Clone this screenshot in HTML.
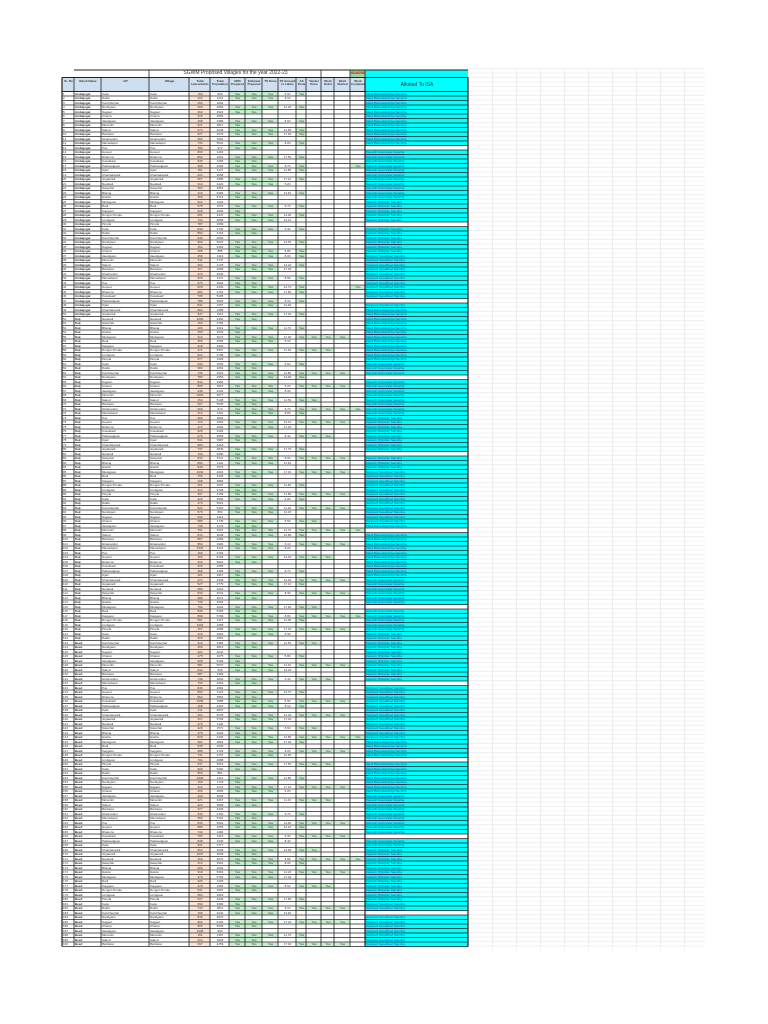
<!DOCTYPE html>
<html><head><meta charset="utf-8">
<style>
html,body{margin:0;padding:0;background:#fff;width:768px;height:1024px;overflow:hidden;font-family:"Liberation Sans",sans-serif;}
#sheet{position:absolute;left:0;top:0;width:768px;height:1024px;}
#bggrid{position:absolute;left:468px;top:68px;width:237px;height:882px;
background-image:repeating-linear-gradient(to right,#eee 0 1px,transparent 1px 24px),repeating-linear-gradient(to bottom,#f0f0f0 0 1px,transparent 1px 4.5px);}
.c{position:absolute;box-sizing:border-box;font-size:3px;line-height:4.5px;overflow:hidden;white-space:nowrap;color:#333;padding-left:1px;}
.hd{font-size:3px;line-height:3.4px;text-align:center;white-space:normal;font-weight:bold;background:#d0dff0;padding-top:2px;}
#lines{position:absolute;left:0;top:0;}
</style></head>
<body>
<div id="sheet">
<div id="bggrid"></div>
<div id="tbl"></div>
<svg id="lines" width="768" height="1024"></svg>
</div>
<script>
const colX=[62,74,101,149,189,210,229,245,262,278,296,306,321,334,350,365,468];
const headers=["Sr. No","Block Name","GP","Village","Total Households","Total Population","DPR Prepared","Estimate Prepared","TS Done","TS Amount in Lakhs","AS Done","Tender Done","Work Order","Work Started","Work Completed","Allotted To ISA"];
const blocks=["Ambajogai","Kaij","Beed"];
const gps=["Kode","Gopeur","Kapgaon","Bardapur","Bhavaj","Chanai","Chandanwadi","Dakla","Dhanora","Dongar Pimpla","Ghatnandur","Hatola","Jawalgaon","Jogaiwadi","Kumbhephal","Kusalwadi","Limbgaon","Mamadapur","Mudegaon","Murambi","Nandadi","Nandgaon","Pattiwadgaon","Pimpla","Pus","Radi","Sakud","Satephal","Sugaon","Ujani"];
const isa=["Mauli Bahuuddeshiya Sanstha","Samarth Gramvikas Sanstha","Kaplesh Shikshan Sanstha","Sanjivani Sevabhavi Sanstha"];
const tbl=document.getElementById('tbl');
const svg=document.getElementById('lines');
const NS='http://www.w3.org/2000/svg';
const top0=91.5,rh=4.5,N=190,bottom=top0+N*rh;
function cell(x1,x2,y,h,txt,bg,cls){
 const d=document.createElement('div');
 d.className='c'+(cls?' '+cls:'');
 d.style.left=x1+'px';d.style.top=y+'px';d.style.width=(x2-x1)+'px';d.style.height=h+'px';
 if(bg)d.style.background=bg;
 d.textContent=txt;
 tbl.appendChild(d);return d;
}
function line(x1,y1,x2,y2,w){
 const l=document.createElementNS(NS,'line');
 l.setAttribute('x1',x1);l.setAttribute('y1',y1);l.setAttribute('x2',x2);l.setAttribute('y2',y2);
 l.setAttribute('stroke','#222');l.setAttribute('stroke-width',w||0.8);
 
 
 svg.appendChild(l);
}
let t=cell(149,321,70,7.5,"SGWM Proposed Villages for the year 2022-23",null);
t.style.fontSize='5px';t.style.lineHeight='7.5px';t.style.textAlign='center';


t=cell(350,365,70,7.5,"6/16/2022","#9bd79b");
t.style.color='#d00';t.style.fontWeight='bold';t.style.fontSize='3.5px';t.style.lineHeight='7.5px';


t=cell(365,468,70,7.5,"","#00ffff");


for(let i=0;i<headers.length;i++){
 const h=cell(colX[i],colX[i+1],77.5,14,headers[i],i==15?'#00ffff':null,'hd');
 if(i==15){h.style.fontSize='5px';h.style.lineHeight='10px';h.style.fontWeight='normal';}
 
 
}
for(let r=0;r<N;r++){
 const y=top0+r*rh;
 const blk=r<50?0:(r<122?1:2);
 const gp=gps[(r*7)%gps.length];
 const s=(r*37+11)%100;
 const dpr=s<75, est=s<70, ts=s<55, as=s<45, ten=(s<30&&blk>0), wo=(s<25&&blk>0), ws=(s<20&&blk>0), wc=(s<4);
 const hh=150+((r*53)%900), pop=800+((r*431)%5000);
 const g='#c6efce';
 const vals=[String(r+1),blocks[blk],gp,gp,String(hh),String(pop),dpr?'Yes':'',est?'Yes':'',ts?'Yes':'',ts?(5+(r*3)%15)+'.'+(r%9)+'0':'',as?'Yes':'',ten?'Yes':'',wo?'Yes':'',ws?'Yes':'',wc?'Yes':'',''];
 const bgs=[null,null,null,null,'#fce4d6',null,dpr?g:null,est?g:null,ts?g:null,null,as?g:null,ten?g:null,wo?g:null,ws?g:null,wc?g:null,null];
 const cy=((r*13)%17)!=3;
 if(cy){vals[15]=isa[Math.floor(r/12)%isa.length];bgs[15]='#00ffff';}
 for(let c=0;c<16;c++){
  const d=cell(colX[c],colX[c+1],y,rh,vals[c],bgs[c]);
  if(c==1){d.style.fontWeight='bold';}
  if(c==15){d.style.color='#1f4fb0';d.style.textDecoration='underline';}
  if(c>=4&&c<15)d.style.textAlign='center';
  
  
 }
}
line(74,70,468,70,1);
line(149,70,149,77.5);line(321,70,321,77.5);line(350,70,350,77.5);line(365,70,365,77.5);
line(62,77.5,468,77.5,1);
for(let r=0;r<=N;r++)line(62,top0+r*rh,468,top0+r*rh,r==0?1:0.8);
for(let i=0;i<colX.length;i++)line(colX[i],77.5,colX[i],bottom,(i==0||i==colX.length-1||i==15)?1.2:0.8);
</script>
</body></html>
